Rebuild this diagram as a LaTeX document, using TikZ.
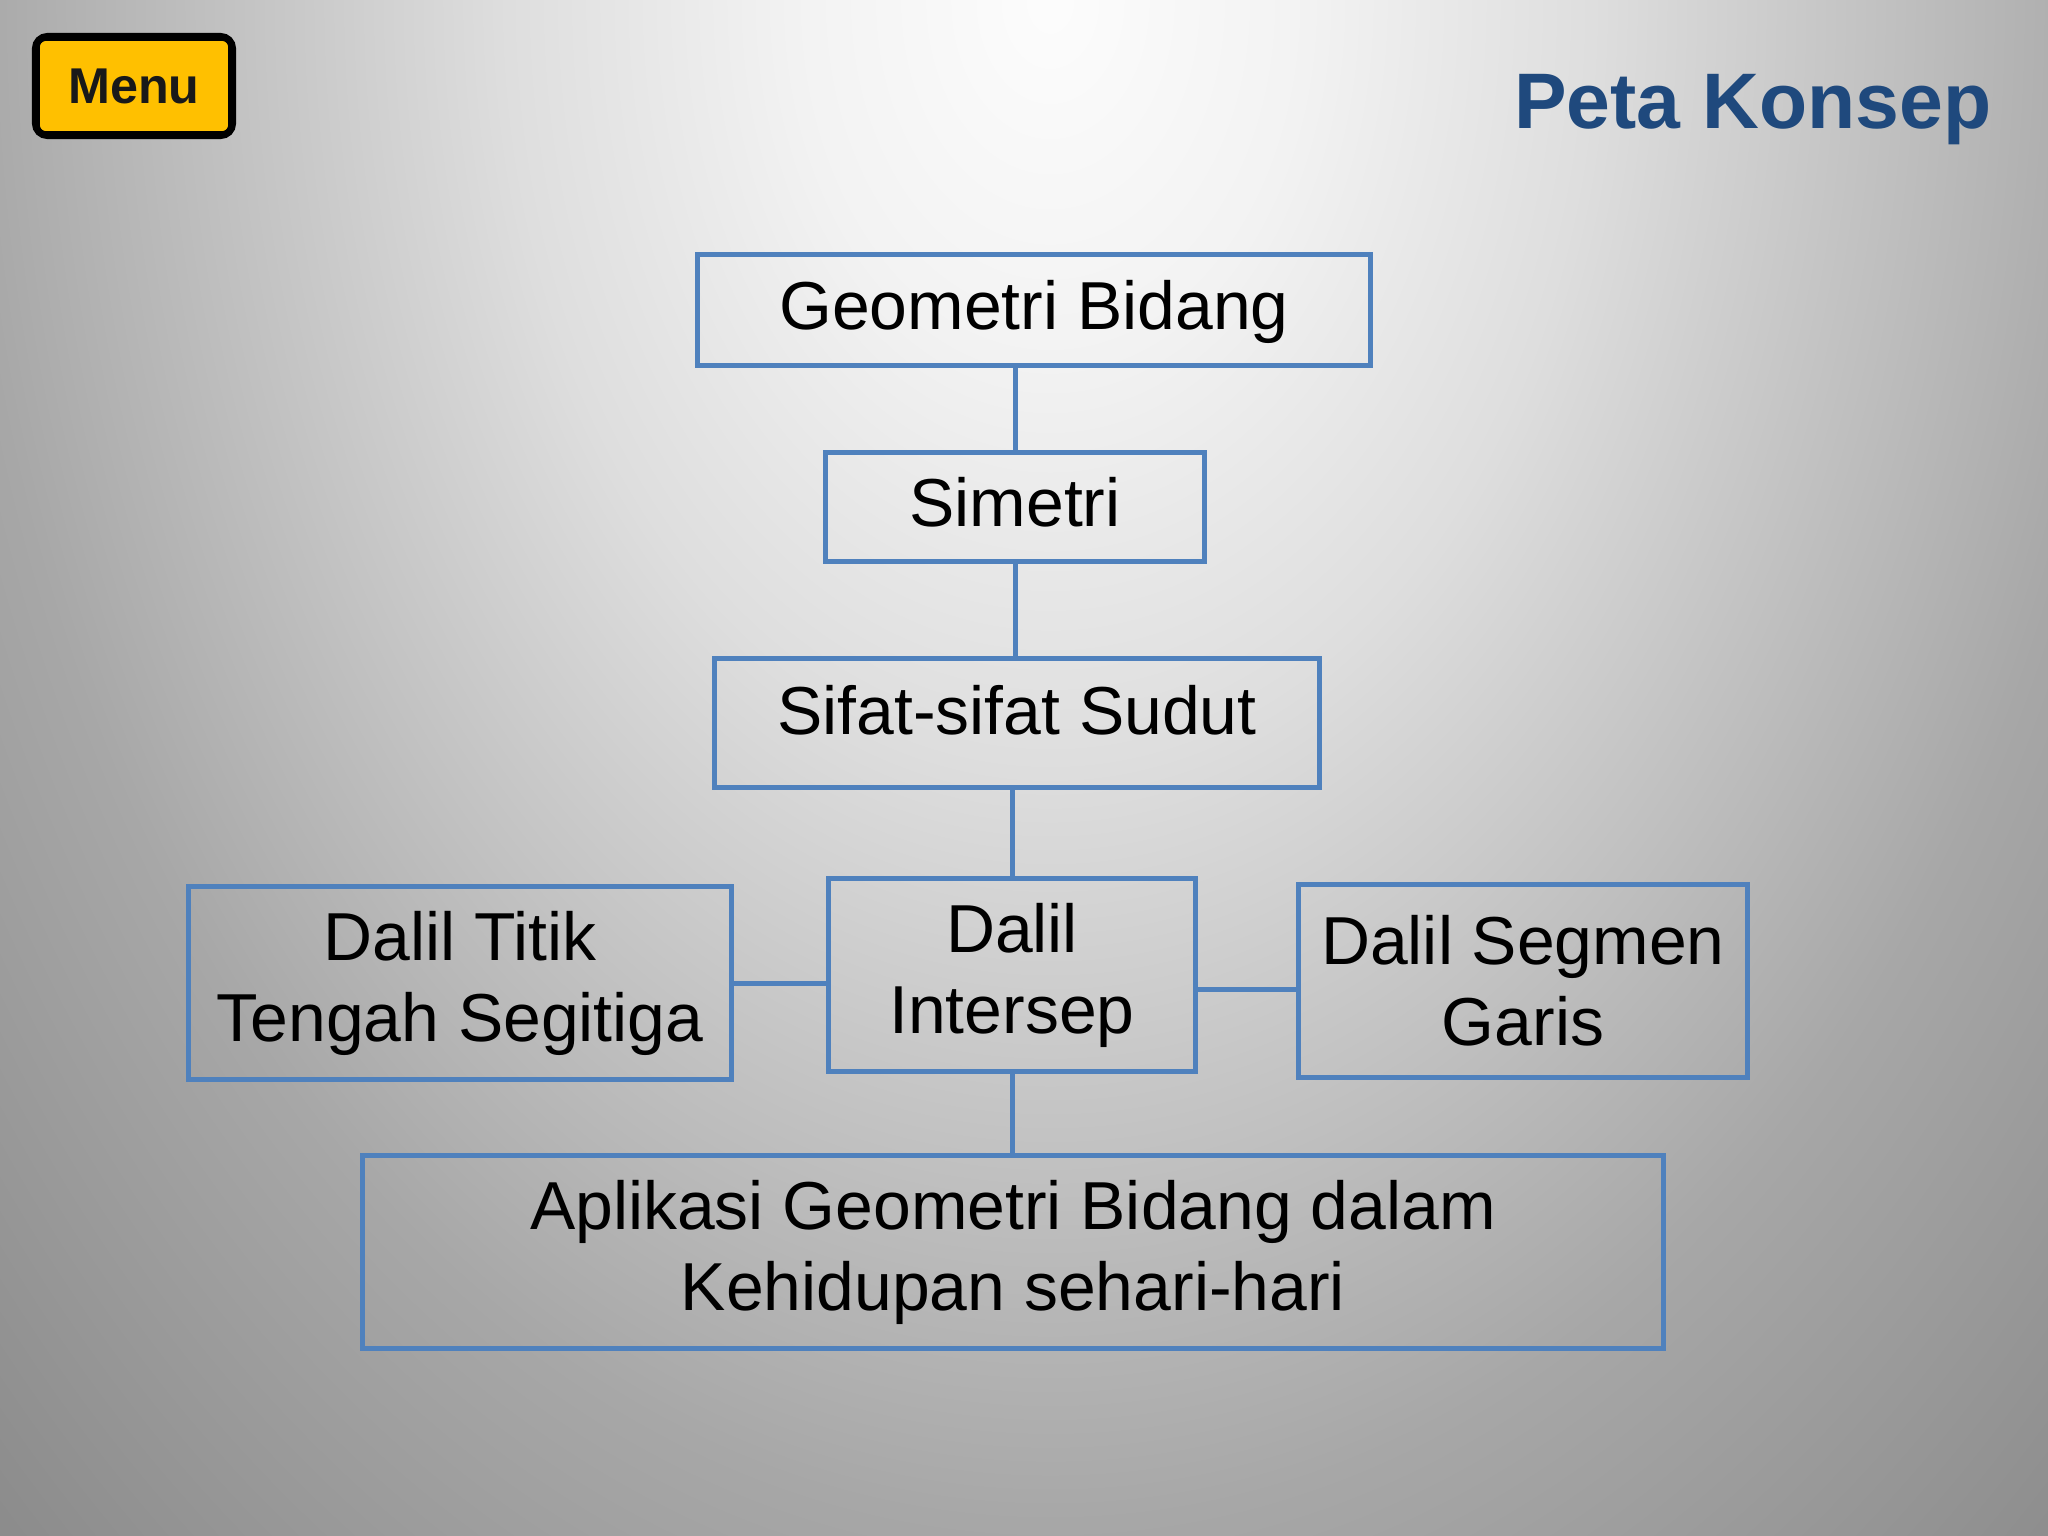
\documentclass[tikz,border=0pt]{standalone}
\usepackage{fontspec}
\setmainfont{Liberation Sans}
\usepackage{tikz}

\definecolor{boxblue}{HTML}{4F81BD}
\definecolor{titleblue}{HTML}{1F497D}
\definecolor{menuyellow}{HTML}{FFC000}
\definecolor{bgA}{gray}{0.99}
\definecolor{bgE}{gray}{0.95}
\definecolor{bgB}{gray}{0.87}
\definecolor{bgC}{gray}{0.655}
\definecolor{bgD}{gray}{0.55}
\pgfdeclareradialshading{slidebg}{\pgfpoint{0bp}{0bp}}{color(0bp)=(bgA); color(4bp)=(bgE); color(8.5bp)=(bgB); color(17bp)=(bgC); color(23.5bp)=(bgD); color(50bp)=(bgD)}

\tikzset{
  konsep/.style={draw=boxblue, line width=0.05cm, inner sep=0pt, align=center, font=\fontsize{19.3}{23}\selectfont},
  link/.style={draw=boxblue, line width=0.05cm}
}

\begin{document}
\begin{tikzpicture}[x=0.01cm, y=-0.01cm]
            \useasboundingbox (0,0) rectangle (2048,1536);
            \begin{scope}
                \clip (0,0) rectangle (2048,1536);
                \fill[bgD] (0,0) rectangle (2048,1536);
                \shade[shading=slidebg] (1050,0) ellipse (1600 and 2240);
            \end{scope}

            \node[draw=black, line width=0.07cm, fill=menuyellow, rounded corners=0.12cm, minimum width=1.97cm, minimum height=0.99cm, inner sep=0pt, text=black!90, font=\fontsize{14.3}{16}\selectfont\bfseries] (menu) at (134,86) {Menu};
            \draw[line width=0.022cm, rounded corners=0.07cm] ([shift={(0.068cm,-0.068cm)}]menu.north west) rectangle ([shift={(-0.068cm,0.068cm)}]menu.south east);
            \node[anchor=base east, inner sep=0pt, text=titleblue, font=\fontsize{22.4}{26}\selectfont\bfseries] (judul) at (1992,128) {Peta Konsep};

            \node[konsep, minimum width=6.73cm, minimum height=1.11cm, text height=15pt, text depth=4pt] (gb) at (1034,310) {Geometri Bidang};
            \node[konsep, minimum width=3.79cm, minimum height=1.08cm, text height=15pt, text depth=4pt] (sim) at (1015,507) {Simetri};
            \node[konsep, minimum width=6.05cm, minimum height=1.28cm, text height=15pt, text depth=8.4pt] (sif) at (1017,723) {Sifat-sifat Sudut};
            \node[konsep, minimum width=5.43cm, minimum height=1.92cm] (dtt) at (460,983) {Dalil Titik\\Tengah Segitiga};
            \node[konsep, minimum width=3.66cm, minimum height=1.92cm] (di) at (1012,975) {Dalil\\Intersep};
            \node[konsep, minimum width=4.48cm, minimum height=1.92cm] (dsg) at (1523,981) {Dalil Segmen\\Garis};
            \node[konsep, minimum width=13cm, minimum height=1.92cm] (apl) at (1013,1252) {Aplikasi Geometri Bidang dalam\\Kehidupan sehari-hari};

            \draw[link] (gb.south -| sim.north) -- (sim.north);
            \draw[link] (sim.south) -- (sim.south |- sif.north);
            \draw[link] (di.north |- sif.south) -- (di.north);
            \draw[link] (dtt.east) -- (dtt.east -| di.west);
            \draw[link] ([yshift=-0.14cm]di.east) -- ([yshift=-0.14cm]di.east -| dsg.west);
            \draw[link] (di.south) -- (di.south |- apl.north);
        \end{tikzpicture}
\end{document}
